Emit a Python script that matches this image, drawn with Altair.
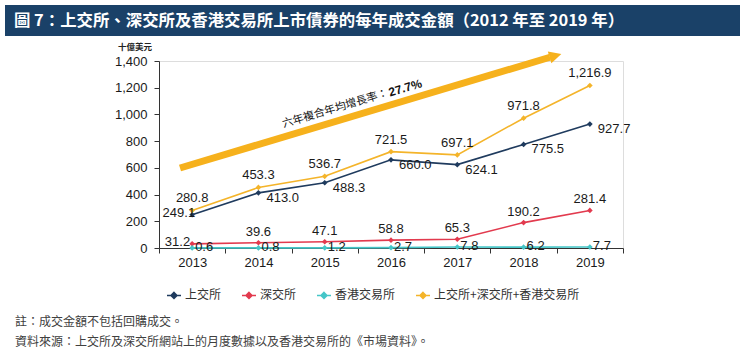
import altair as alt
import pandas as pd

# ---------------- data ----------------
years = [2013, 2014, 2015, 2016, 2017, 2018, 2019]
sse = [249.1, 413.0, 488.3, 660.0, 624.1, 775.5, 927.7]
szse = [31.2, 39.6, 47.1, 58.8, 65.3, 190.2, 281.4]
hkex = [0.6, 0.8, 1.2, 2.7, 7.8, 6.2, 7.7]
total = [280.8, 453.3, 536.7, 721.5, 697.1, 971.8, 1216.9]
series_names = ["上交所", "深交所", "香港交易所", "上交所+深交所+香港交易所"]
series_colors = ["#1f3b5e", "#e23a4e", "#45c6c8", "#f4b42a"]
y_ticks = [0, 200, 400, 600, 800, 1000, 1200, 1400]
x_bounds = [2012.5, 2013.5, 2014.5, 2015.5, 2016.5, 2017.5, 2018.5, 2019.5]

title_text = "圖 7：上交所、深交所及香港交易所上市債券的每年成交金額（2012 年至 2019 年）"
unit_text = "十億美元"
notes = ["註：成交金額不包括回購成交。",
         "資料來源：上交所及深交所網站上的月度數據以及香港交易所的《市場資料》。"]
cagr_label = "六年複合年均增長率："
cagr_value = "27.7%"
# annotation arrow in data coordinates (year, value)
arrow_x = [2012.817, 2018.398]
arrow_y = [599, 1428]
head_x = [2018.481]
head_y = [1440]
cagr_x = [2015.954]
cagr_y = [1160]

# ---------------- tables ----------------
rows = []
for name, vals in zip(series_names, [sse, szse, hkex, total]):
    for yr, v in zip(years, vals):
        rows.append({"year": yr, "value": v, "series": name, "label": f"{v:,.1f}"})
df = pd.DataFrame(rows)

arrow_df = pd.DataFrame({"year": arrow_x, "value": arrow_y})
head_df = pd.DataFrame({"year": head_x, "value": head_y})
cagr_df = pd.DataFrame({"year": cagr_x, "value": cagr_y, "a": [cagr_label], "b": [cagr_value]})

NUM_FONT = "Liberation Sans"
CJK_FONT = "Noto Sans CJK TC"
TXT = "#1a1a1a"

xscale = alt.Scale(domain=[2012.5, 2019.5], nice=False, zero=False)
yscale = alt.Scale(domain=[0, 1400], nice=False)
xaxis = alt.Axis(values=x_bounds, title=None, grid=False, tickSize=5,
                 labelExpr="datum.value < 2019 ? format(datum.value + 0.5, 'd') : ''",
                 labelOffset=33.14, labelFlush=False, labelOverlap=False,
                 labelFont=NUM_FONT, labelFontSize=13, labelColor=TXT, labelPadding=3,
                 domainColor="#333333", tickColor="#333333")
yaxis = alt.Axis(values=y_ticks, format=",.0f", title=None, grid=False, tickSize=5,
                 labelFont=NUM_FONT, labelFontSize=13, labelColor=TXT, labelPadding=7,
                 domainColor="#333333", tickColor="#333333")

X = alt.X("year:Q", scale=xscale, axis=xaxis)
Y = alt.Y("value:Q", scale=yscale, axis=yaxis)

legend_symbol = "M-1,0L1,0M0,-0.42L0.42,0L0,0.42L-0.42,0Z"

base = alt.Chart(df)

lines = base.mark_line(strokeWidth=1.6).encode(
    x=X, y=Y,
    color=alt.Color("series:N", sort=series_names,
                    scale=alt.Scale(domain=series_names, range=series_colors),
                    legend=alt.Legend(title=None, orient="none", legendX=7, legendY=226,
                                      direction="horizontal", symbolType=legend_symbol,
                                      symbolSize=196, symbolStrokeWidth=1.6,
                                      labelFont=CJK_FONT, labelFontSize=12, labelColor="#333333",
                                      labelOffset=3, columnPadding=16, labelLimit=0)),
    detail="series:N",
)
points = base.mark_point(shape="diamond", filled=True, size=32, opacity=1, strokeWidth=0).encode(
    x=X, y=Y,
    fill=alt.Fill("series:N", scale=alt.Scale(domain=series_names, range=series_colors), legend=None),
)

def lab(filter_expr, **kw):
    return base.transform_filter(filter_expr).mark_text(
        font=NUM_FONT, fontSize=13, color=TXT, baseline="middle", **kw
    ).encode(x=X, y=Y, text="label:N")

n = series_names
labels = [
    lab(f"datum.series == '{n[3]}'", align="center", dy=-12),
    lab(f"datum.series == '{n[0]}' && datum.year != 2013", align="left", dx=8, dy=5),
    lab(f"datum.series == '{n[0]}' && datum.year == 2013", align="right", dx=3, dy=-2),
    lab(f"datum.series == '{n[1]}' && datum.year != 2013", align="center", dy=-11),
    lab(f"datum.series == '{n[1]}' && datum.year == 2013", align="right", dx=-2, dy=-2),
    lab(f"datum.series == '{n[2]}'", align="left", dx=3, dy=-1),
]

ARROW = "#f6b11c"
arrow = alt.Chart(arrow_df).mark_line(color=ARROW, strokeWidth=7, strokeCap="butt").encode(x=X, y=Y)
head = alt.Chart(head_df).mark_point(shape="M-1,-1L1,0L-1,1Z", filled=True, size=150,
                                     color=ARROW, opacity=1, angle=343.3, strokeWidth=0).encode(x=X, y=Y)
cagr_a = alt.Chart(cagr_df).mark_text(font=CJK_FONT, fontSize=11, color="#111111", align="right",
                                      baseline="middle", angle=343.3).encode(x=X, y=Y, text="a:N")
cagr_b = alt.Chart(cagr_df).mark_text(font=NUM_FONT, fontSize=12, fontWeight="bold", color="#111111",
                                      align="left", baseline="middle", angle=343.3, dx=1).encode(x=X, y=Y, text="b:N")

one = pd.DataFrame({"t": [title_text]})
title_bar = alt.Chart(one).mark_rect(color="#1a4168").encode(
    x=alt.value(-154), x2=alt.value(581), y=alt.value(-56), y2=alt.value(-25))
title = alt.Chart(one).mark_text(font=CJK_FONT, fontSize=16.4, fontWeight="bold", color="white",
                                 align="left", baseline="middle").encode(
    x=alt.value(-145), y=alt.value(-40.5), text="t:N")
unit = alt.Chart(pd.DataFrame({"t": [unit_text]})).mark_text(
    font=CJK_FONT, fontSize=8.5, fontWeight="bold", color="#222222", align="center", baseline="middle").encode(
    x=alt.value(-24), y=alt.value(-14), text="t:N")
note1 = alt.Chart(pd.DataFrame({"t": [notes[0]]})).mark_text(
    font=CJK_FONT, fontSize=12, color="#404040", align="left", baseline="middle").encode(
    x=alt.value(-144), y=alt.value(261), text="t:N")
note2 = alt.Chart(pd.DataFrame({"t": [notes[1]]})).mark_text(
    font=CJK_FONT, fontSize=12, color="#404040", align="left", baseline="middle").encode(
    x=alt.value(-144), y=alt.value(281), text="t:N")

chart = alt.layer(
    title_bar, title, unit, arrow, head, cagr_a, cagr_b,
    lines, points, *labels, note1, note2
).properties(
    width=464, height=187,
    padding={"left": 159, "top": 61, "right": 124, "bottom": 107},
    autosize=alt.AutoSizeParams(type="none"),
).configure_view(stroke=None).configure(background="white")

chart.save("out.html", embed_options={"renderer": "svg", "actions": False})
